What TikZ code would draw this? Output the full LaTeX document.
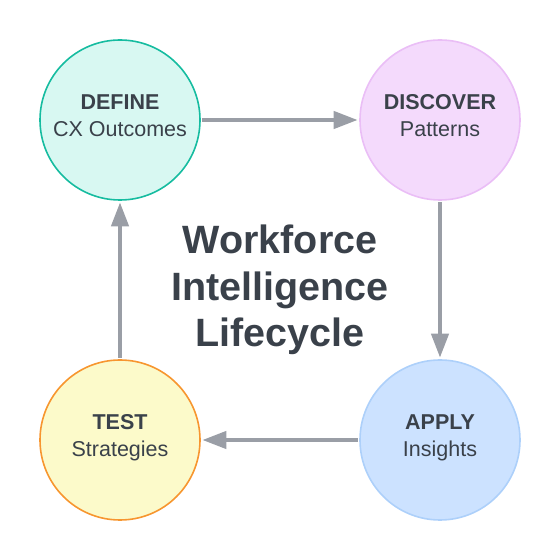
\documentclass[tikz,border=0pt]{standalone}
\usepackage{fontspec}
\setmainfont{Liberation Sans}
\usepackage{xcolor}
\usepackage{tikz}
\usetikzlibrary{arrows.meta,positioning}
\definecolor{cortexto}{RGB}{58,65,74}
\definecolor{corseta}{RGB}{154,158,166}
\definecolor{corverde}{RGB}{22,188,160}
\definecolor{corverdeclaro}{RGB}{216,248,242}
\definecolor{corroxo}{RGB}{234,190,246}
\definecolor{corroxoclaro}{RGB}{244,218,252}
\definecolor{corazul}{RGB}{173,208,250}
\definecolor{corazulclaro}{RGB}{204,226,255}
\definecolor{corlaranja}{RGB}{247,150,47}
\definecolor{coramareloclaro}{RGB}{252,250,202}

\begin{document}
\begin{tikzpicture}[
  x=1pt, y=1pt,
  etapa/.style={circle, line width=1.6pt, minimum size=160pt, inner sep=0pt,
                align=center, text=cortexto, text height=43pt, text depth=9pt,
                font=\fontsize{21.5}{27}\selectfont},
  seta/.style={-{Triangle[length=24pt, width=17pt]}, line width=4.2pt,
               color=corseta, shorten <=1.5pt, shorten >=1.5pt}
]
  \useasboundingbox (0,0) rectangle (560,560);
  \node[etapa, draw=corverde, fill=corverdeclaro] (define) at (120,440)
    {\textbf{DEFINE}\\CX Outcomes};
  \node[etapa, draw=corroxo, fill=corroxoclaro] (discover) at (440,440)
    {\textbf{DISCOVER}\\Patterns};
  \node[etapa, draw=corazul, fill=corazulclaro] (apply) at (440,120)
    {\textbf{APPLY}\\Insights};
  \node[etapa, draw=corlaranja, fill=coramareloclaro] (test) at (120,120)
    {\textbf{TEST}\\Strategies};
  \node[align=center, text=cortexto, font=\fontsize{39.5}{46.5}\selectfont\bfseries]
    (titulo) at (280,270) {Workforce\\Intelligence\\Lifecycle};

  \draw[seta] (define) -- (discover);
  \draw[seta] (discover) -- (apply);
  \draw[seta] (apply) -- (test);
  \draw[seta] (test) -- (define);
\end{tikzpicture}
\end{document}
